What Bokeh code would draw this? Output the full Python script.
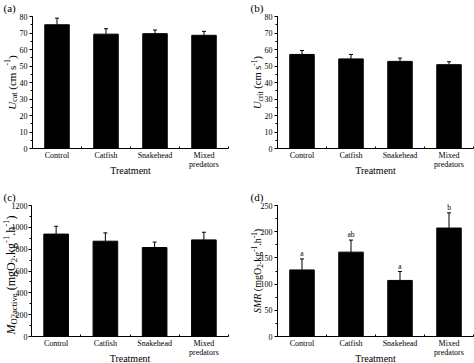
import math
from bokeh.plotting import figure
from bokeh.layouts import gridplot
from bokeh.models import (ColumnDataSource, Range1d, Whisker, TeeHead,
                          SingleIntervalTicker, FixedTicker)
from bokeh.embed import file_html
from bokeh.resources import INLINE
from bokeh.core.properties import value

# ---------------- data ----------------
treatments = ["Control", "Catfish", "Snakehead", "Mixed\npredators"]

ucat = [75.0, 69.3, 69.6, 68.6]
ucat_err = [4.0, 3.3, 2.2, 2.4]

ucrit = [57.0, 54.3, 52.8, 50.8]
ucrit_err = [2.4, 2.7, 2.0, 1.8]

mo2active = [938, 873, 815, 885]
mo2active_err = [72, 76, 50, 70]

smr = [127, 161, 107, 207]
smr_err = [21, 23, 17, 29]
smr_letters = ["a", "ab", "a", "b"]

x_title = "Treatment"

# ---------------- text width helper (Times metrics) ----------------
ROMAN = {" ": 250, "(": 333, ")": 333, "-": 333, ".": 250, "1": 500, "2": 500, "O": 722,
         "a": 444, "c": 444, "e": 444, "g": 500, "h": 500, "i": 278, "k": 500, "m": 778,
         "r": 333, "s": 389, "t": 278, "v": 500}
ITALIC = {"U": 722, "M": 833, "S": 500, "R": 611}
FONT = "Liberation Serif"


def tw(s, size, italic=False):
    tab = ITALIC if italic else ROMAN
    return sum(tab.get(ch, 500) for ch in s) * size / 1000.0


def panel(tag, vals, errs, ymax, ystep, parts, lab_size, W, H, ox, oy, ty, ex,
          xb, tag_x, tag_y, letters=None, lab_shift=0, ystand=2):
    n = len(treatments)
    c = (ex - ox) / n            # px per category
    k = (oy - ty) / ymax         # px per unit
    px2x = lambda px: (px - ox) / c
    py2y = lambda py: (oy - py) / k

    p = figure(x_range=Range1d(px2x(0), px2x(W)), y_range=Range1d(py2y(H), py2y(0)),
               width=W, height=H, output_backend="svg", toolbar_location=None,
               min_border_left=0, min_border_right=0, min_border_top=0,
               min_border_bottom=0)
    p.outline_line_color = None
    p.grid.visible = False

    xs = [i + 0.5 for i in range(n)]
    src = ColumnDataSource(dict(x=xs, v=vals, up=[v + e for v, e in zip(vals, errs)]))
    p.vbar(x="x", top="v", bottom=0, width=0.5, source=src, fill_color="black",
           line_color="black")
    p.add_layout(Whisker(base="x", upper="up", lower="v", source=src,
                         lower_head=None,
                         upper_head=TeeHead(size=4, line_color="black", line_width=1),
                         line_color="black", line_width=1))
    if letters is not None:
        src2 = ColumnDataSource(dict(x=xs, up=src.data["up"], lab=letters))
        p.text(x="x", y="up", text="lab", source=src2, text_font=value(FONT),
               text_font_size="7.5px", text_align="center", text_baseline="bottom",
               y_offset=-1, text_color="black")

    # axes
    xax = p.xaxis[0]
    xax.fixed_location = 0
    xax.bounds = (0, n)
    xax.ticker = FixedTicker(ticks=xs, minor_ticks=list(range(1, n + 1)))
    xax.major_label_overrides = {x: t for x, t in zip(xs, treatments)}
    xax.major_tick_line_color = None
    xax.major_tick_out = 0
    xax.major_tick_in = 0
    xax.minor_tick_line_color = "black"
    xax.minor_tick_in = 2
    xax.minor_tick_out = 0
    xax.major_label_standoff = 2
    xax.major_label_text_line_height = 1.05

    yax = p.yaxis[0]
    yax.fixed_location = 0
    yax.bounds = (0, ymax)
    yax.ticker = SingleIntervalTicker(interval=ystep, num_minor_ticks=2)
    yax.major_tick_out = 3
    yax.major_tick_in = 0
    yax.minor_tick_out = 2
    yax.minor_tick_in = 0
    yax.major_label_standoff = ystand
    yax.major_tick_line_color = "black"
    yax.minor_tick_line_color = "black"
    for ax in (xax, yax):
        ax.axis_line_color = "black"
        ax.axis_line_width = 1
        ax.major_label_text_font = FONT
        ax.major_label_text_font_size = "8px"
        ax.major_label_text_color = "black"

    # x title
    p.text(x=[px2x(ox + (ex - ox) / 2)], y=[py2y(oy + 22)], text=[x_title],
           text_font=value(FONT), text_font_size="10px", text_align="center",
           text_baseline="middle", text_color="black")
    # panel tag
    p.text(x=[px2x(tag_x)], y=[py2y(tag_y)], text=[tag], text_font=value(FONT),
           text_font_size="11px", text_align="left", text_baseline="middle",
           text_color="black")
    # y title, composed of pieces (sub/superscripts)
    sub = lab_size * 0.72
    pieces = []
    for txt, kind in parts:
        fs = lab_size if kind in ("n", "i") else sub
        lead = 0.0
        while txt.startswith(" "):
            lead += tw(" ", fs)
            txt = txt[1:]
        pieces.append((txt, kind, fs, lead, tw(txt, fs, kind == "i")))
    total = sum(pc[3] + pc[4] for pc in pieces)
    py = (oy + ty) / 2 + total / 2 + lab_shift
    for txt, kind, fs, lead, w in pieces:
        py -= lead
        dx = {"sub": 0.27 * lab_size, "sup": -0.38 * lab_size}.get(kind, 0)
        p.text(x=[px2x(xb + dx)], y=[py2y(py)], text=[txt], angle=math.pi / 2,
               text_font=value(FONT), text_font_size=f"{fs:.1f}px",
               text_font_style="italic" if kind == "i" else "normal",
               text_align="left", text_baseline="alphabetic", text_color="black")
        py -= w
    return p


LW, RW = 237, 237
TH, BH = 181, 182

pa = panel("(a)", ucat, ucat_err, 80, 10,
           [("U", "i"), ("cat", "sub"), (" (cm s", "n"), ("-1", "sup"), (")", "n")],
           11, LW, TH, ox=32, oy=148, ty=16, ex=228, xb=11, tag_x=3, tag_y=7)
pb = panel("(b)", ucrit, ucrit_err, 80, 10,
           [("U", "i"), ("crit", "sub"), (" (cm s", "n"), ("-1", "sup"), (")", "n")],
           10.5, RW, TH, ox=40, oy=148, ty=16, ex=236, xb=20, tag_x=13, tag_y=7)
pc = panel("(c)", mo2active, mo2active_err, 1200, 200,
           [("M", "i"), ("O2active", "sub"), (" (mgO", "n"), ("2", "sub"), (".kg", "n"),
            ("-1", "sup"), (".h", "n"), ("-1", "sup"), (")", "n")],
           12, LW, BH, ox=31, oy=155, ty=24, ex=228, xb=10, tag_x=3, tag_y=15,
           lab_shift=4, ystand=1)
pd = panel("(d)", smr, smr_err, 250, 50,
           [("SMR", "i"), (" (mgO", "n"), ("2", "sub"), (".kg", "n"),
            ("-1", "sup"), (".h", "n"), ("-1", "sup"), (")", "n")],
           10, RW, BH, ox=40, oy=155, ty=24, ex=236, xb=20, tag_x=13, tag_y=15,
           letters=smr_letters)

grid = gridplot([[pa, pb], [pc, pd]], toolbar_location=None)

open("out.html", "w").write(file_html(grid, INLINE))
